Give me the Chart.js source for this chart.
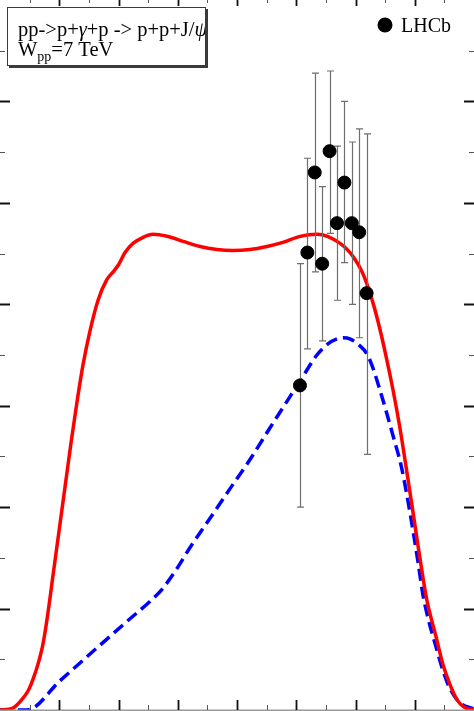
<!DOCTYPE html>
<html>
<head>
<meta charset="utf-8">
<script src="https://cdn.jsdelivr.net/npm/chart.js@4"></script>
<style>
  html, body { margin: 0; padding: 0; background: #fff; }
  #wrap { width: 474px; height: 711px; }
</style>
</head>
<body>
<div id="wrap"><canvas id="plot" width="474" height="711"></canvas></div>
<script>
// LHCb points: rapidity bin centres, dsigma/dy and error bar ends
const lhcbY = [2.125, 2.375, 2.625, 2.875, 3.125, 3.375, 3.625, 3.875, 4.125, 4.375];
const lhcbVal = [3.20, 4.51, 5.30, 4.40, 5.51, 4.80, 5.20, 4.80, 4.71, 4.11];
const lhcbHi = [4.40, 5.44, 6.28, 5.16, 6.30, 5.56, 6.00, 5.60, 5.73, 5.68];
const lhcbLo = [2.00, 3.56, 4.32, 3.64, 4.70, 4.04, 4.41, 4.00, 3.67, 2.52];

// red solid curve
const redY = [-8.0, -7.56, -7.27, -7.05, -6.89, -6.72, -6.55, -6.40, -6.20, -6.00, -5.80, -5.60, -5.40,
    -5.20, -4.96, -4.69, -4.40, -4.15, -4.00, -3.78, -3.51, -3.17, -2.84, -2.36, -1.82, -1.25, -0.68,
    -0.14, 0.44, 1.01, 1.55, 2.13, 2.70, 3.48, 3.92, 4.22, 4.49, 4.76, 5.03, 5.27, 5.50, 5.70, 5.91,
    6.11, 6.28, 6.41, 6.72, 6.95, 7.19, 7.43, 7.66, 8.0];
const redV = [0.0, 0.02, 0.10, 0.19, 0.30, 0.45, 0.65, 0.92, 1.35, 1.78, 2.21, 2.64, 3.04,
    3.40, 3.74, 4.04, 4.24, 4.33, 4.39, 4.51, 4.60, 4.66, 4.69, 4.67, 4.62, 4.57, 4.54,
    4.53, 4.54, 4.57, 4.61, 4.67, 4.69, 4.60, 4.47, 4.32, 4.11, 3.83, 3.49, 3.15, 2.78, 2.41, 2.01,
    1.62, 1.30, 1.08, 0.72, 0.45, 0.25, 0.10, 0.03, 0.0];

// blue dashed curve
const blueY = [-8.0, -7.09, -5.97, -4.62, -3.61, -2.94, -2.53, -2.06, -1.59, -0.91, -0.24, 0.44, 1.11,
    1.79, 2.23, 2.67, 3.07, 3.38, 3.58, 3.81, 4.15, 4.39, 4.59, 4.83, 5.06, 5.30, 5.54, 5.74, 5.94,
    6.11, 6.28, 6.48, 6.72, 6.95, 7.19, 7.53, 8.0];
const blueV = [0.0, 0.0, 0.29, 0.64, 0.90, 1.07, 1.19, 1.38, 1.60, 1.89, 2.18, 2.47, 2.78,
    3.09, 3.29, 3.49, 3.61, 3.66, 3.67, 3.66, 3.59, 3.51, 3.37, 3.15, 2.92, 2.67, 2.41, 2.11, 1.77,
    1.46, 1.13, 0.87, 0.62, 0.39, 0.21, 0.07, 0.01];

const xMin = -8, xMax = 8, yMin = 0, yMax = 7;

function pts(xs, ys) {
    return xs.map((v, i) => ({ x: v, y: ys[i] }));
}

const errorBars = {
    id: 'errorBars',
    beforeDatasetDraw(chart, args) {
        if (args.index !== 0) return;
        const { ctx, scales: { x, y } } = chart;
        ctx.save();
        ctx.strokeStyle = '#6e6e6e';
        ctx.lineWidth = 1.2;
        for (let i = 0; i < lhcbY.length; i++) {
            const px = Math.round(x.getPixelForValue(lhcbY[i])) + 0.5;
            const top = y.getPixelForValue(lhcbHi[i]);
            const bot = y.getPixelForValue(lhcbLo[i]);
            ctx.beginPath();
            ctx.moveTo(px, top); ctx.lineTo(px, bot);
            ctx.moveTo(px - 3.5, top); ctx.lineTo(px + 3.5, top);
            ctx.moveTo(px - 3.5, bot); ctx.lineTo(px + 3.5, bot);
            ctx.stroke();
        }
        ctx.restore();
    }
};

const frameTicks = {
    id: 'frameTicks',
    afterDatasetsDraw(chart) {
        const { ctx, chartArea: { left, right, top, bottom }, scales: { x, y } } = chart;
        ctx.save();
        ctx.strokeStyle = '#9a9a9a';
        ctx.lineWidth = 2;
        ctx.beginPath();
        ctx.moveTo(left, bottom + 0.5); ctx.lineTo(right, bottom + 0.5);
        ctx.stroke();

        for (let v = xMin + 1; v < xMax; v += 1) {
            const major = v % 2 === 0;
            const px = Math.round(x.getPixelForValue(v)) + 0.5;
            ctx.strokeStyle = major ? '#111' : '#555';
            ctx.lineWidth = major ? 1.8 : 1;
            ctx.beginPath();
            ctx.moveTo(px, bottom); ctx.lineTo(px, bottom - (major ? 10 : 5));
            ctx.moveTo(px, top); ctx.lineTo(px, top + (major ? 6 : 3));
            ctx.stroke();
        }
        for (let v = yMin + 0.5; v < yMax; v += 0.5) {
            const major = v % 1 === 0;
            const py = Math.round(y.getPixelForValue(v)) + 0.5;
            ctx.strokeStyle = major ? '#111' : '#555';
            ctx.lineWidth = major ? 1.8 : 1;
            ctx.beginPath();
            ctx.moveTo(left, py); ctx.lineTo(left + (major ? 10 : 5), py);
            ctx.moveTo(right, py); ctx.lineTo(right - (major ? 10 : 5), py);
            ctx.stroke();
        }
        ctx.restore();
    }
};

const labelsBox = {
    id: 'labelsBox',
    afterDraw(chart) {
        const ctx = chart.ctx;
        ctx.save();
        // pave with shadow
        ctx.fillStyle = '#3a3a3a';
        ctx.fillRect(9, 9, 199, 59);
        ctx.fillStyle = '#fff';
        ctx.fillRect(7, 7, 198, 58);
        ctx.strokeStyle = '#3a3a3a';
        ctx.lineWidth = 1;
        ctx.strokeRect(7.5, 7.5, 198, 58);

        ctx.beginPath();
        ctx.rect(8, 8, 197, 57);
        ctx.clip();
        ctx.fillStyle = '#000';
        ctx.textBaseline = 'alphabetic';
        const normal = '20.5px "Liberation Serif", "Times New Roman", serif';
        const ital = 'italic 20.5px "Liberation Serif", "Times New Roman", serif';
        const parts = [['pp->p+', normal], ['\u03b3', ital], ['+p -> p+p+J/', normal], ['\u03c8', ital]];
        let tx = 18;
        for (const [s, f] of parts) {
            ctx.font = f;
            ctx.fillText(s, tx, 36);
            tx += ctx.measureText(s).width;
        }
        tx = 18;
        ctx.font = normal;
        ctx.fillText('W', tx, 56);
        tx += ctx.measureText('W').width;
        ctx.font = '14px "Liberation Serif", "Times New Roman", serif';
        ctx.fillText('pp', tx, 61);
        tx += ctx.measureText('pp').width;
        ctx.font = normal;
        ctx.fillText('=7 TeV', tx, 56);
        ctx.restore();

        // LHCb legend entry
        ctx.save();
        ctx.fillStyle = '#000';
        ctx.beginPath();
        ctx.arc(385, 25, 7.5, 0, Math.PI * 2);
        ctx.fill();
        ctx.font = '20px "Liberation Serif", "Times New Roman", serif';
        ctx.fillText('LHCb', 401, 32);
        ctx.restore();
    }
};

new Chart(document.getElementById('plot').getContext('2d'), {
    type: 'scatter',
    plugins: [errorBars, frameTicks, labelsBox],
    data: {
        datasets: [
            {
                label: 'LHCb',
                data: pts(lhcbY, lhcbVal),
                backgroundColor: '#000',
                borderColor: '#000',
                pointRadius: 6.5,
                order: 0
            },
            {
                label: 'red',
                data: pts(redY, redV),
                showLine: true,
                borderColor: '#ff0000',
                borderWidth: 3.5,
                pointRadius: 0,
                cubicInterpolationMode: 'monotone',
                order: 1
            },
            {
                label: 'blue',
                data: pts(blueY, blueV),
                showLine: true,
                borderColor: '#0000ff',
                borderWidth: 3.5,
                borderDash: [12, 6],
                pointRadius: 0,
                cubicInterpolationMode: 'monotone',
                order: 2
            }
        ]
    },
    options: {
        responsive: false,
        animation: false,
        layout: { autoPadding: false, padding: { left: 0, right: 0, top: 0, bottom: 1 } },
        plugins: {
            legend: { display: false },
            tooltip: { enabled: false }
        },
        scales: {
            x: { type: 'linear', min: xMin, max: xMax, display: false },
            y: { type: 'linear', min: yMin, max: yMax, display: false }
        }
    }
});
</script>
</body>
</html>
